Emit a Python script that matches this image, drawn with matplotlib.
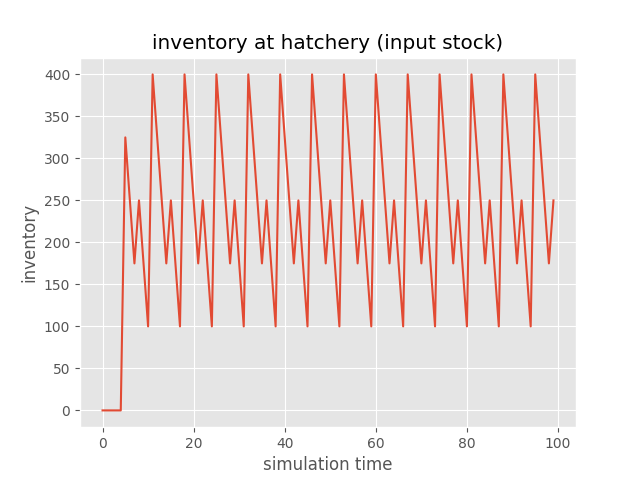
import matplotlib
matplotlib.use("Agg")
import matplotlib.pyplot as plt

plt.style.use("ggplot")

time = list(range(100))
inventory = [0, 0, 0, 0, 0, 325, 250, 175, 250, 175, 100,
             400, 325, 250, 175, 250, 175, 100,
             400, 325, 250, 175, 250, 175, 100,
             400, 325, 250, 175, 250, 175, 100,
             400, 325, 250, 175, 250, 175, 100,
             400, 325, 250, 175, 250, 175, 100,
             400, 325, 250, 175, 250, 175, 100,
             400, 325, 250, 175, 250, 175, 100,
             400, 325, 250, 175, 250, 175, 100,
             400, 325, 250, 175, 250, 175, 100,
             400, 325, 250, 175, 250, 175, 100,
             400, 325, 250, 175, 250, 175, 100,
             400, 325, 250, 175, 250, 175, 100,
             400, 325, 250, 175, 250]

fig, ax = plt.subplots(figsize=(6.4, 4.8), dpi=100)
ax.plot(time, inventory)
ax.set_title("inventory at hatchery (input stock)")
ax.set_xlabel("simulation time")
ax.set_ylabel("inventory")
fig.savefig("out.png")
